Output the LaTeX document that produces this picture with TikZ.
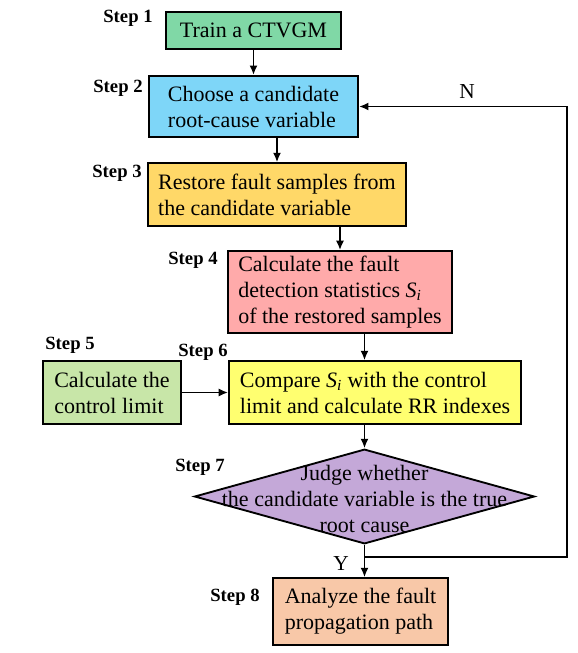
\documentclass[tikz,border=0pt]{standalone}
\usepackage{fontspec}
\setmainfont{Liberation Serif}
\usetikzlibrary{shapes.geometric,arrows.meta}

\definecolor{trainfill}{RGB}{128,216,166}
\definecolor{choosefill}{RGB}{126,214,248}
\definecolor{restorefill}{RGB}{255,216,104}
\definecolor{calcfill}{RGB}{255,170,170}
\definecolor{limitfill}{RGB}{200,230,168}
\definecolor{comparefill}{RGB}{255,255,112}
\definecolor{judgefill}{RGB}{196,168,216}
\definecolor{pathfill}{RGB}{248,200,168}

\tikzset{
  stepbox/.style={draw=black, line width=1.4pt, inner sep=0pt, align=left,
    font=\fontsize{16.5}{19.5}\selectfont},
  steplabel/.style={font=\fontsize{14}{16}\selectfont\bfseries},
  judgebox/.style={draw=black, line width=1.4pt, shape=diamond, inner sep=0pt},
  flow/.style={-{Latex[length=7pt,width=6pt]}, line width=1.3pt},
}

\begin{document}
\begin{tikzpicture}[x=0.75pt,y=-0.75pt]

\useasboundingbox (0,0) rectangle (578,653);

% boxes
\node[stepbox, fill=trainfill, minimum width=131pt, minimum height=28pt] (b1) at (253.5,30.5) {Train a CTVGM};
\node[stepbox, fill=choosefill, minimum width=157pt, minimum height=46pt] (b2) at (253.5,106.5) {Choose a candidate\\root-cause variable};
\node[stepbox, fill=restorefill, minimum width=193.5pt, minimum height=47pt] (b3) at (277,194.5) {Restore fault samples from\\the candidate variable};
\node[stepbox, fill=calcfill, minimum width=168pt, minimum height=61.5pt] (b4) at (340,292) {Calculate the fault\\detection statistics \textit{S}\textsubscript{\textit{i}}\\of the restored samples};
\node[stepbox, fill=limitfill, minimum width=103.5pt, minimum height=47pt] (b5) at (112,392.5) {Calculate the\\control limit};
\node[stepbox, fill=comparefill, minimum width=219pt, minimum height=47pt] (b6) at (375,392.5) {Compare \textit{S}\textsubscript{\textit{i}} with the control\\limit and calculate RR indexes};
\node[judgebox, fill=judgefill, minimum width=255pt, minimum height=71pt] (d7) at (364.5,496.5) {};
\node[align=center, inner sep=0pt, font=\fontsize{16.5}{19.5}\selectfont] (d7t) at (364.5,498.5) {Judge whether\\the candidate variable is the true\\root cause};
\node[stepbox, fill=pathfill, minimum width=131pt, minimum height=50pt] (b8) at (360.5,611.5) {Analyze the fault\\propagation path};

% step labels
\node[steplabel] (s1) at (128,18) {Step 1};
\node[steplabel] (s2) at (118,88) {Step 2};
\node[steplabel] (s3) at (117,173) {Step 3};
\node[steplabel] (s4) at (193,260) {Step 4};
\node[steplabel] (s5) at (70,345) {Step 5};
\node[steplabel] (s6) at (203,352) {Step 6};
\node[steplabel] (s7) at (200,467) {Step 7};
\node[steplabel] (s8) at (235,597) {Step 8};

% connectors
\draw[flow] (b1) -- (b2);
\draw[flow] (b2.south -| b3.north) -- (b3.north);
\draw[flow] (b3.south -| b4.north) -- (b4.north);
\draw[flow] (b4.south -| d7.north) -- (d7.north |- b6.north);
\draw[flow] (b5) -- (b6);
\draw[flow] (b6.south -| d7.north) -- (d7.north);
\draw[flow] (d7.south) -- (d7.south |- b8.north);

\coordinate (jn) at (364.5,557);
\coordinate (nr) at (567,557);
\draw[flow] (jn) -- (nr) |- (b2.east);

\node[font=\fontsize{16}{18}\selectfont] (lN) at (467,92) {N};
\node[font=\fontsize{16}{18}\selectfont] (lY) at (341,564) {Y};

\end{tikzpicture}
\end{document}
